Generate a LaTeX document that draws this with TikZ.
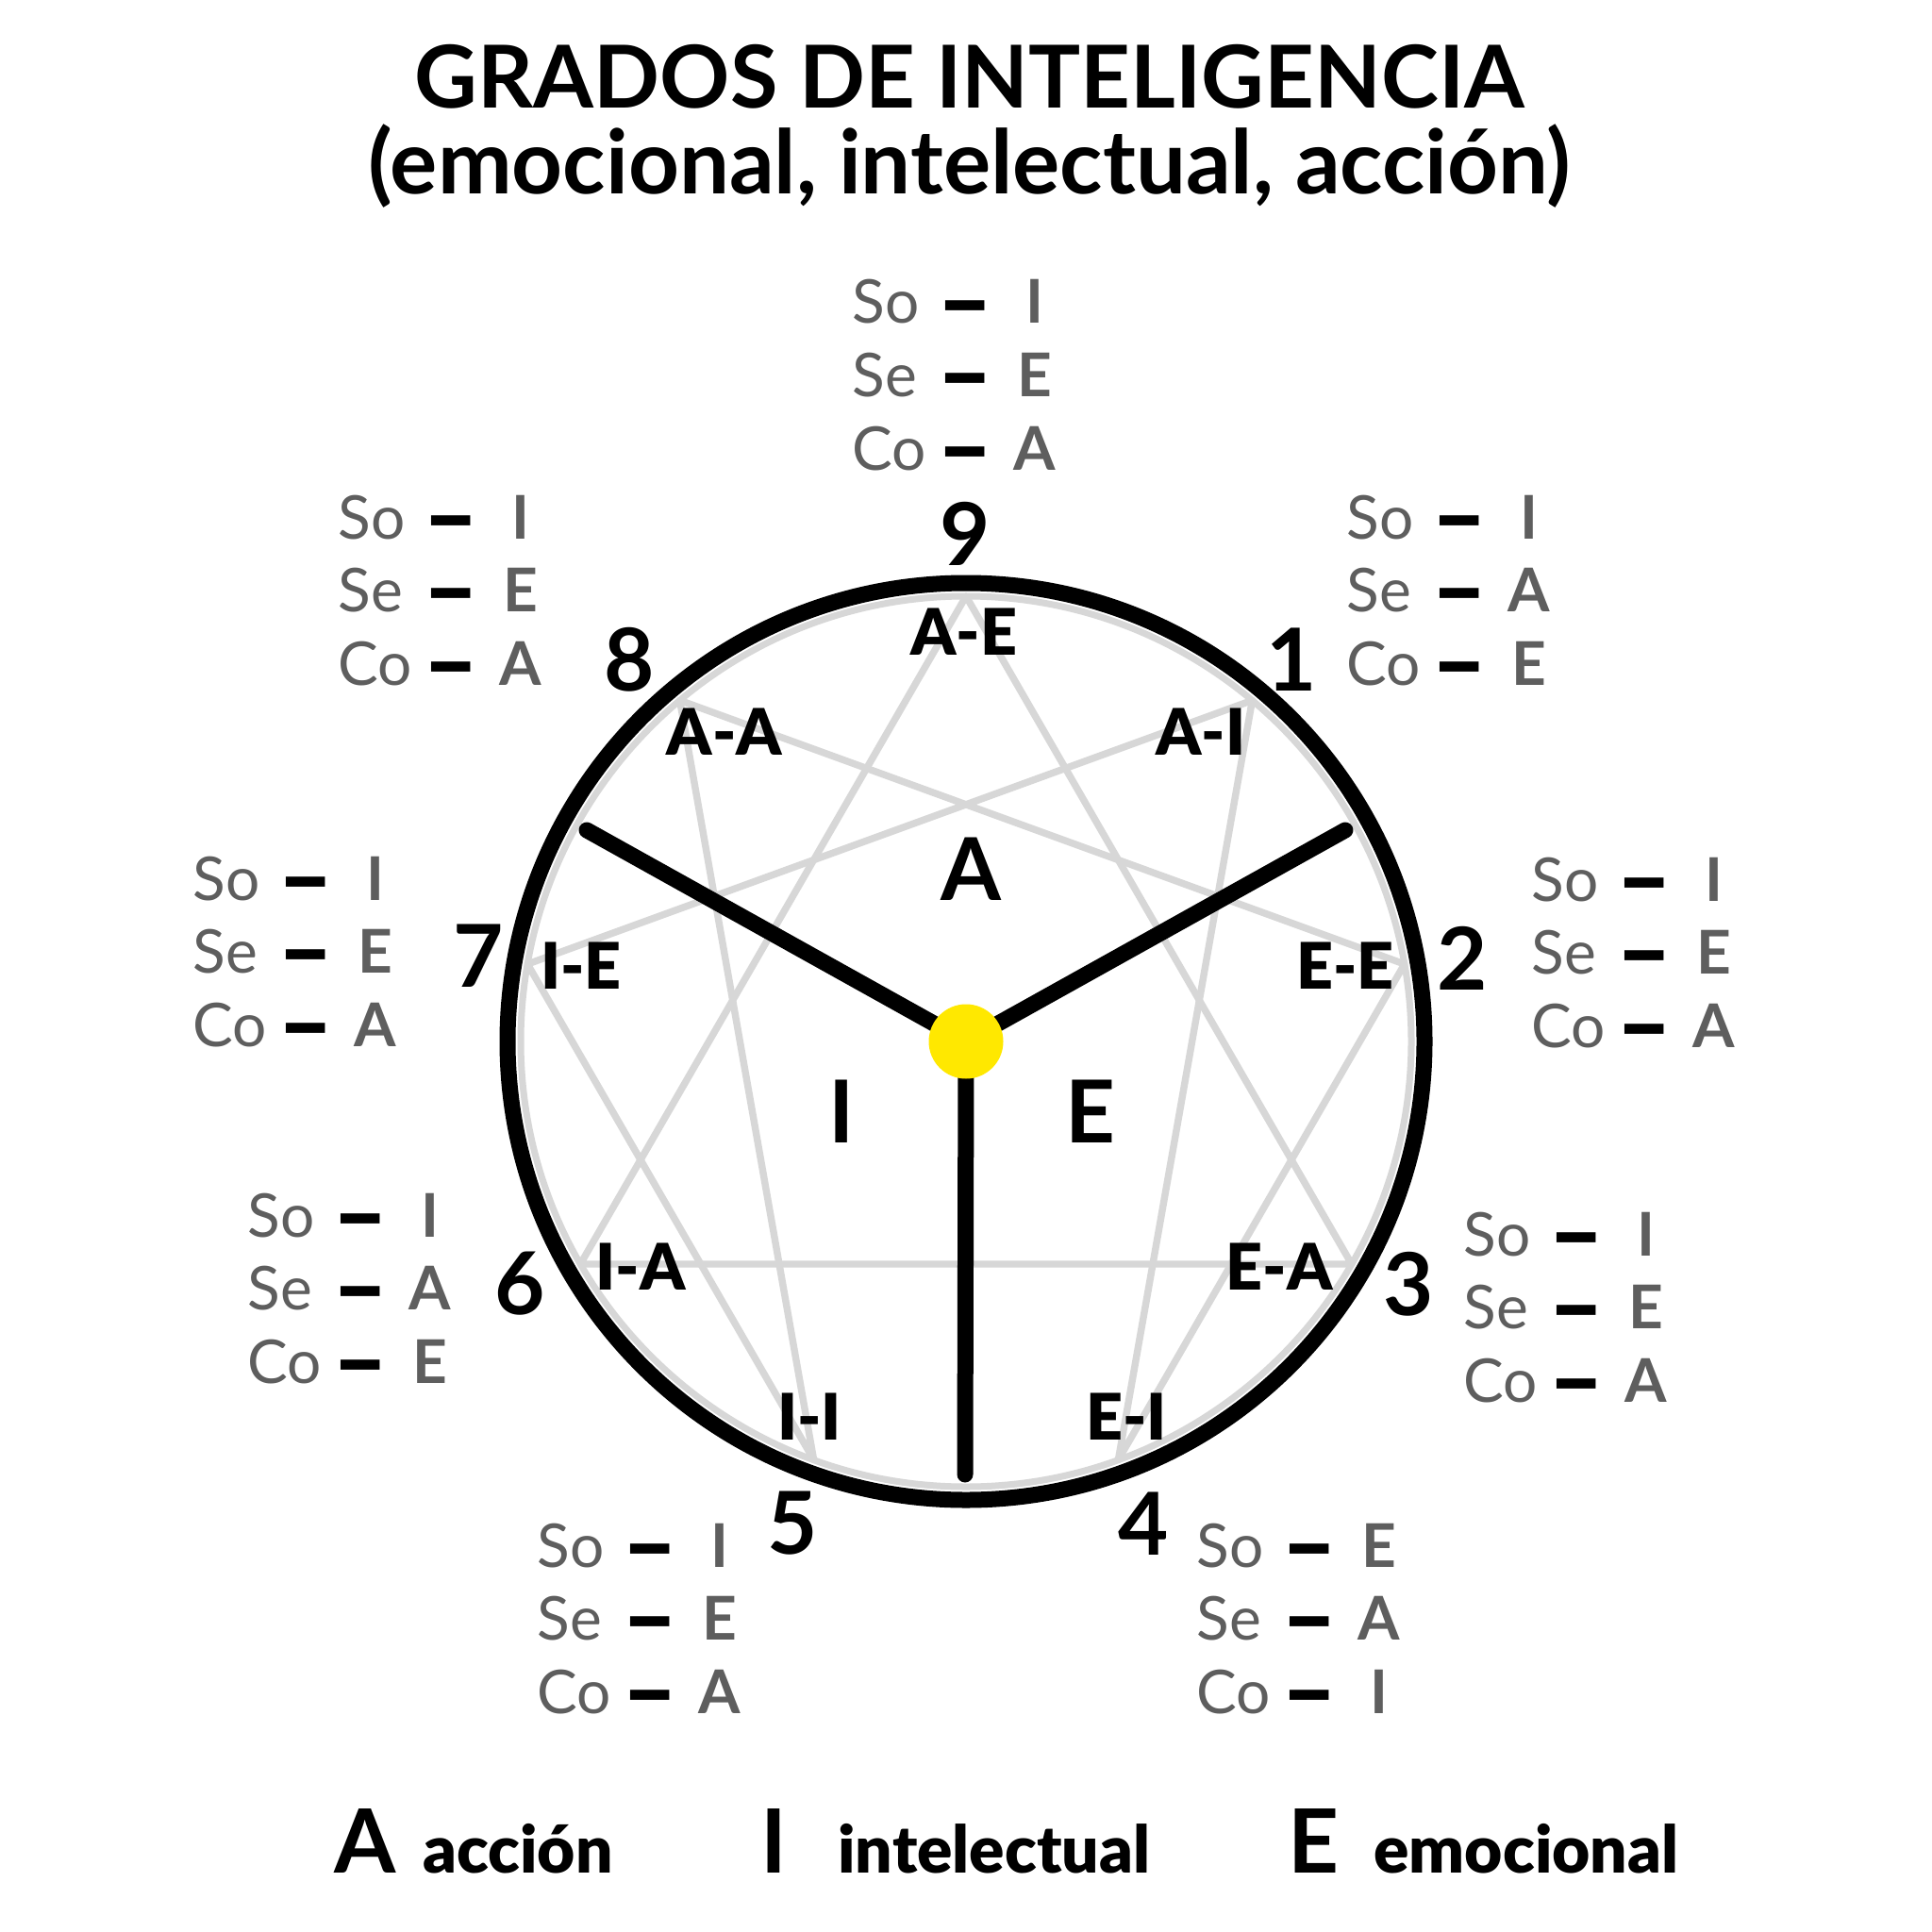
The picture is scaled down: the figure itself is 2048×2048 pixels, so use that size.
\documentclass[tikz,border=0pt]{standalone}
\usepackage{fontspec}
\setmainfont{Lato}
\IfFontExistsTF{Lato Black}{\newfontfamily\heavyfont{Lato Black}}{%
  \IfFontExistsTF{Lato Heavy}{\newfontfamily\heavyfont{Lato Heavy}}{\newcommand{\heavyfont}{\bfseries}}}
\usepackage{graphicx}
\definecolor{txtgray}{HTML}{5E5E5E}
\definecolor{linegray}{HTML}{D7D7D7}
\definecolor{dotyellow}{HTML}{FFE800}
\newcommand{\fsz}[1]{\fontsize{#1pt}{#1pt}\selectfont}
\newcommand{\dashglyph}{\makebox[0pt][c]{\scalebox{1.6}[1.9]{\raisebox{-0.14em}{–}}}}
\newcommand{\blk}[6]{%
  \node[sotext,anchor=base west] (#1so) at (#2,#3) {So};
  \node[dashtext] (#1d1) at (#2+120.5,#3) {\dashglyph};
  \node[lettext] (#1l1) at (#2+194,#3) {#4};
  \node[sotext,anchor=base west] (#1se) at (#2,#3+77.5) {Se};
  \node[dashtext] (#1d2) at (#2+120.5,#3+77.5) {\dashglyph};
  \node[lettext] (#1l2) at (#2+194,#3+77.5) {#5};
  \node[sotext,anchor=base west] (#1co) at (#2,#3+155) {Co};
  \node[dashtext] (#1d3) at (#2+120.5,#3+155) {\dashglyph};
  \node[lettext] (#1l3) at (#2+194,#3+155) {#6};
}
\begin{document}
\begin{tikzpicture}[x=0.5pt,y=-0.5pt,
  sotext/.style={inner sep=0pt,text=txtgray,font=\fsz{32}},
  lettext/.style={inner sep=0pt,anchor=base,text=txtgray,font=\bfseries\fsz{32}},
  dashtext/.style={inner sep=0pt,anchor=base,text=black,font=\bfseries\fsz{32}},
  numtext/.style={inner sep=0pt,anchor=center,font=\bfseries\fsz{46}},
  inlab/.style={inner sep=0pt,anchor=center,font=\heavyfont\fsz{34}},
  bigletter/.style={inner sep=0pt,anchor=center,font=\bfseries\fsz{46}},
  titletext/.style={inner sep=0pt,anchor=base,font=\bfseries\fsz{46}},
  legletter/.style={inner sep=0pt,anchor=base,font=\bfseries\fsz{47}},
  legword/.style={inner sep=0pt,anchor=base west,font=\heavyfont\fsz{34.7}},
  ennealine/.style={draw=linegray,line width=3.7pt,line join=round,line cap=round},
  spoke/.style={draw=black,line width=8.5pt,line cap=round},
]
\useasboundingbox (0,0) rectangle (2048,2048);
\fill[white] (0,0) rectangle (2048,2048);

% centre and enneagram points
\coordinate (c) at (1024,1104);
\coordinate (p9) at (1024,632);
\coordinate (p1) at (1327.4,742.4);
\coordinate (p2) at (1488.8,1022.0);
\coordinate (p3) at (1432.8,1340);
\coordinate (p4) at (1185.4,1547.5);
\coordinate (p5) at (862.6,1547.5);
\coordinate (p6) at (615.2,1340);
\coordinate (p7) at (559.2,1022.0);
\coordinate (p8) at (720.6,742.4);

% gray circle and enneagram
\draw[linegray,line width=3.5pt] (c) circle[radius=236pt];
\draw[ennealine] (p9) -- (p3) -- (p6) -- cycle;
\draw[ennealine] (p1) -- (p4) -- (p2) -- (p8) -- (p5) -- (p7) -- cycle;

% black circle
\draw[black,line width=8.5pt] (c) circle[radius=243pt];

% spokes
\coordinate (s1) at (1426,880);
\coordinate (s2) at (622,880);
\coordinate (s3) at (1023,1563);
\draw[spoke] (c) -- (s1);
\draw[spoke] (c) -- (s2);
\draw[spoke] (c) -- (s3);
\node[circle,fill=dotyellow,inner sep=0pt,minimum size=39.5pt] (dot) at (c) {};

% title
\node[titletext] (t1) at (1028,115) {GRADOS DE INTELIGENCIA};
\node[titletext,font=\bfseries\fsz{47}] (t2) at (1028,206) {(emocional, intelectual, acción)};

% numbers
\node[numtext] (n9) at (1023,566) {9};
\node[numtext] (n1) at (1369,699) {1};
\node[numtext] (n8) at (667,699) {8};
\node[numtext] (n2) at (1550,1016) {2};
\node[numtext] (n7) at (507,1013) {7};
\node[numtext] (n3) at (1493,1361) {3};
\node[numtext] (n6) at (551,1361) {6};
\node[numtext] (n4) at (1212,1615) {4};
\node[numtext] (n5) at (840,1615) {5};

% inner labels
\node[inlab] (lAE) at (1022,670) {A-E};
\node[inlab] (lAI) at (1273,776) {A-I};
\node[inlab] (lAA) at (768,776) {A-A};
\node[inlab] (lEE) at (1426,1024) {E-E};
\node[inlab] (lIE) at (616,1024) {I-E};
\node[inlab] (lEA) at (1356,1343) {E-A};
\node[inlab] (lIA) at (679,1343) {I-A};
\node[inlab] (lEI) at (1194,1502) {E-I};
\node[inlab] (lII) at (858,1502) {I-I};

% big letters
\node[bigletter] (bA) at (1029,921) {A};
\node[bigletter] (bI) at (892,1178) {I};
\node[bigletter] (bE) at (1156,1178) {E};

% blocks
\blk{b9}{903}{343}{I}{E}{A}
\blk{b1}{1427}{571}{I}{A}{E}
\blk{b8}{358}{571}{I}{E}{A}
\blk{b2}{1623}{955}{I}{E}{A}
\blk{b7}{204}{954}{I}{E}{A}
\blk{b6}{262}{1311}{I}{A}{E}
\blk{b3}{1551}{1331}{I}{E}{A}
\blk{b5}{569}{1661}{I}{E}{A}
\blk{b4}{1268}{1661}{E}{A}{I}

% legend
\node[legletter] (gA) at (387,1985) {A};
\node[legword] (gAw) at (448,1985) {acción};
\node[legletter] (gI) at (820,1985) {I};
\node[legword] (gIw) at (888,1985) {intelectual};
\node[legletter] (gE) at (1393,1985) {E};
\node[legword] (gEw) at (1456,1985) {emocional};
\end{tikzpicture}
\end{document}
